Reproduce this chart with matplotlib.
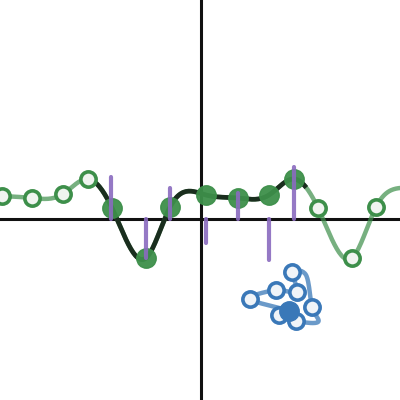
import numpy as np
import matplotlib.pyplot as plt

S = 30.0
green_x = np.array([2, 32, 63, 88, 112, 146, 170, 206, 238, 269, 294, 318, 352, 376, 400, 430])
green_y = np.array([196, 198, 194, 179, 208, 258, 207, 195, 198, 195, 179, 208, 258, 207, 188, 190])
green_filled = [False, False, False, False, True, True, True, True, True, True, True, False, False, False]
stem_x = np.array([111, 146, 170, 206, 238, 269, 294])
stem_y = np.array([177, 258, 188, 243, 193, 260, 167])
blue_x = np.array([250, 276, 297, 292, 306, 312, 318, 296, 279, 289])
blue_y = np.array([299, 290, 292, 272, 275, 307, 322, 321, 315, 311])
blue_marked = [True, True, True, True, False, True, False, True, True, True]


def tx(px):
    return (np.asarray(px, float) - 201) / S


def ty(py):
    return (219 - np.asarray(py, float)) / S


def natural_spline(x, y, n=30):
    # natural cubic spline, x increasing
    h = np.diff(x)
    m = len(x)
    A = np.zeros((m, m))
    r = np.zeros(m)
    A[0, 0] = A[-1, -1] = 1
    for i in range(1, m - 1):
        A[i, i - 1] = h[i - 1]
        A[i, i] = 2 * (h[i - 1] + h[i])
        A[i, i + 1] = h[i]
        r[i] = 6 * ((y[i + 1] - y[i]) / h[i] - (y[i] - y[i - 1]) / h[i - 1])
    M = np.linalg.solve(A, r)
    xs, ys = [], []
    for i in range(m - 1):
        t = np.linspace(x[i], x[i + 1], n)
        a, b = x[i + 1] - t, t - x[i]
        v = (M[i] * a ** 3 + M[i + 1] * b ** 3) / (6 * h[i]) \
            + (y[i] / h[i] - M[i] * h[i] / 6) * a + (y[i + 1] / h[i] - M[i + 1] * h[i] / 6) * b
        xs.append(t)
        ys.append(v)
    return np.concatenate(xs), np.concatenate(ys)


def catmull(x, y, n=20):
    pts = np.column_stack([x, y])
    pts = np.vstack([pts[-1], pts, pts[0], pts[1]])
    out = []
    t = np.linspace(0, 1, n)[:, None]
    for i in range(1, len(pts) - 2):
        p0, p1, p2, p3 = pts[i - 1], pts[i], pts[i + 1], pts[i + 2]
        seg = 0.5 * ((2 * p1) + (-p0 + p2) * t + (2 * p0 - 5 * p1 + 4 * p2 - p3) * t ** 2
                     + (-p0 + 3 * p1 - 3 * p2 + p3) * t ** 3)
        out.append(seg)
    out = np.vstack(out)
    return out[:, 0], out[:, 1]


fig = plt.figure(figsize=(4, 4), dpi=100)
ax = fig.add_axes([0, 0, 1, 1])
ax.set_xlim(tx(0), tx(400))
ax.set_ylim(ty(400), ty(0))
ax.axis('off')
ax.axhline(0, color='#111111', lw=2.2, zorder=1)
ax.axvline(0, color='#111111', lw=2.2, zorder=1)

gx, gy = tx(green_x), ty(green_y)
cx, cy = natural_spline(gx, gy)
ax.plot(cx, cy, color='#3d8f4a', alpha=0.7, lw=3.2, zorder=2)
keep = (cx >= gx[3]) & (cx <= tx(305))
ax.plot(cx[keep], cy[keep], color='#1a2e1e', lw=3.4, zorder=3)

for i, f in enumerate(green_filled):
    if f:
        ax.plot(gx[i], gy[i], 'o', ms=14, color='#3d8f4a', alpha=0.95, zorder=4)
    else:
        ax.plot(gx[i], gy[i], 'o', ms=11, mfc='#f0f4f0', mec='#3d8f4a', mew=2.6, zorder=4)

for sx, sy in zip(tx(stem_x), ty(stem_y)):
    ax.plot([sx, sx], [0, sy], color='#8a6bbf', lw=3, alpha=0.9, zorder=5, solid_capstyle='round')

bx, by = tx(blue_x), ty(blue_y)
lx, ly = catmull(bx, by)
ax.plot(lx, ly, color='#3a78b8', alpha=0.75, lw=3.2, zorder=2)
for i, m in enumerate(blue_marked):
    if not m:
        continue
    if i == len(blue_x) - 1:
        ax.plot(bx[i], by[i], 'o', ms=14, color='#3a78b8', zorder=4)
    else:
        ax.plot(bx[i], by[i], 'o', ms=11, mfc='#f0f4f8', mec='#3a78b8', mew=2.6, zorder=4)

fig.savefig('out.png', dpi=100)
